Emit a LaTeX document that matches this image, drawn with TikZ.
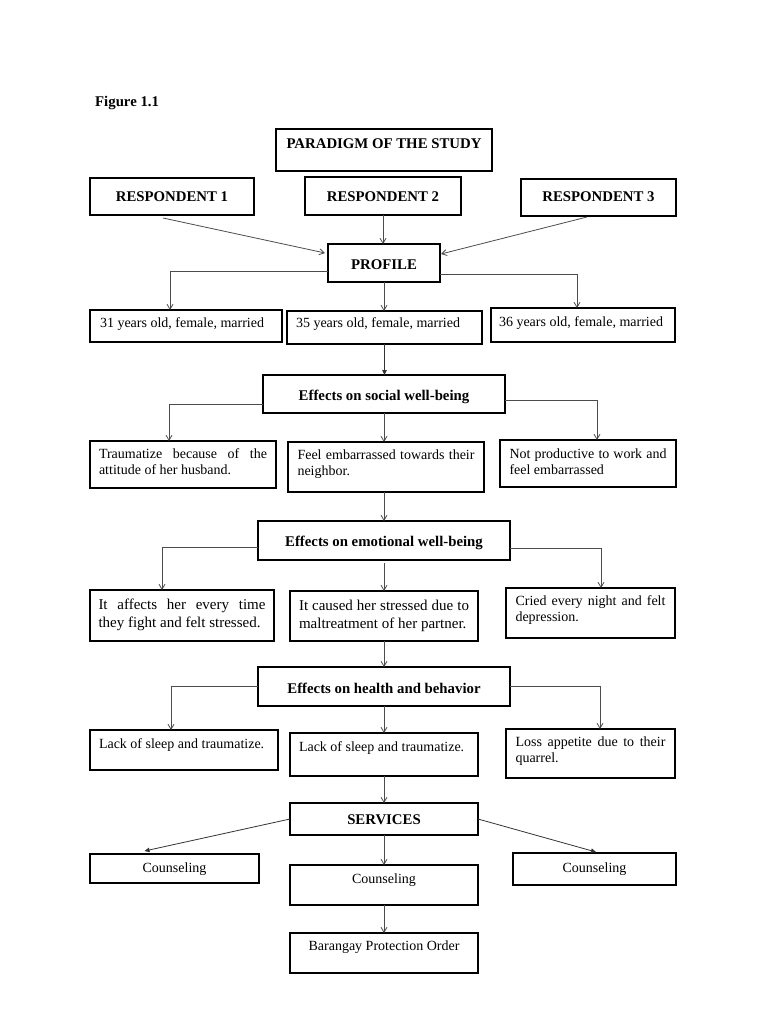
\documentclass[tikz,border=0pt]{standalone}
\usepackage{fontspec}
\setmainfont{Liberation Serif}
\usetikzlibrary{arrows.meta}
\newcommand{\regfont}{\fontsize{14}{16.5}\selectfont}
\newcommand{\bigregfont}{\fontsize{15}{18}\selectfont}
\newcommand{\headfont}{\fontsize{14.8}{17}\selectfont\bfseries}

\begin{document}
\begin{tikzpicture}[x=1pt, y=-1pt,
  box/.style={draw, line width=1.1pt, rectangle, anchor=north west, inner ysep=0pt, inner xsep=9pt, outer sep=0pt, font=\regfont, align=flush left},
  jbox/.style={box, align=justify},
  head/.style={box, inner xsep=4pt, align=flush center, font=\headfont},
  cbox/.style={box, inner xsep=4pt, align=flush center},
  conn/.style={draw=black!70, line width=0.8pt, -{Straight Barb[length=5pt,width=6pt]}},
  connf/.style={draw=black!80, line width=0.8pt, -{Triangle[length=5pt,width=4.5pt]}}]
\useasboundingbox (0,0) rectangle (768,1024);

\node[anchor=base west, inner sep=0pt, font=\headfont] (fig) at (95,107) {Figure 1.1};
\node[head, text width=208pt, text height=20pt, text depth=22pt] (paradigm) at (276,129) {PARADIGM OF THE STUDY};

\node[head, text width=156pt, text height=24pt, text depth=13pt] (r1) at (90,178) {RESPONDENT 1};
\node[head, text width=148pt, text height=25pt, text depth=13pt] (r2) at (305,177) {RESPONDENT 2};
\node[head, text width=147pt, text height=23pt, text depth=14pt] (r3) at (521,179) {RESPONDENT 3};
\node[head, text width=104pt, text height=25pt, text depth=13pt] (profile) at (328,244) {PROFILE};

\node[box, inner xsep=10pt, text width=172pt, text height=17pt, text depth=15pt] (b31) at (90,310) {31 years old, female, married};
\node[box, text width=177pt, text height=16pt, text depth=17pt] (b35) at (287,311) {35 years old, female, married};
\node[box, inner xsep=8pt, text width=168pt, text height=18pt, text depth=16pt] (b36) at (491,308) {36 years old, female, married};

\node[head, text width=234pt, text height=25pt, text depth=13pt] (social) at (263,375) {Effects on social well-being};
\node[jbox, text width=168pt, text height=17pt, text depth=30pt] (trauma) at (90,441) {Traumatize because of the\linebreak attitude of her husband.};
\node[jbox, inner xsep=9.5pt, text width=177pt, text height=17pt, text depth=33pt] (feel) at (288,442) {Feel embarrassed towards their\linebreak neighbor.};
\node[jbox, inner xsep=9.5pt, text width=157pt, text height=18pt, text depth=29pt] (notprod) at (500,440) {Not productive to work and\linebreak feel embarrassed};

\node[head, text width=244pt, text height=25pt, text depth=14pt] (emotional) at (258,521) {Effects on emotional well-being};
\node[jbox, inner xsep=8.5pt, font=\bigregfont, text width=167pt, text height=19pt, text depth=32pt] (affects) at (90,590) {It affects her every time\linebreak they fight and felt stressed.};
\node[jbox, font=\bigregfont, text width=170pt, text height=19pt, text depth=31pt] (caused) at (290,591) {It caused her stressed due to\linebreak maltreatment of her partner.};
\node[jbox, inner xsep=9.5pt, text width=150pt, text height=17pt, text depth=33pt] (cried) at (506,588) {Cried every night and felt\linebreak depression.};

\node[head, text width=244pt, text height=26pt, text depth=13pt] (health) at (258,667) {Effects on health and behavior};
\node[box, text width=170pt, text height=18pt, text depth=22pt] (lack1) at (90,730) {Lack of sleep and traumatize.};
\node[box, text width=170pt, text height=18pt, text depth=25pt] (lack2) at (290,733) {Lack of sleep and traumatize.};
\node[jbox, inner xsep=9.5pt, text width=150pt, text height=17pt, text depth=32pt] (loss) at (506,729) {Loss appetite due to their\linebreak quarrel.};

\node[head, text width=180pt, text height=21pt, text depth=11pt] (services) at (290,803) {SERVICES};
\node[cbox, text width=161pt, text height=18pt, text depth=11pt] (couns1) at (90,854) {Counseling};
\node[cbox, text width=180pt, text height=18pt, text depth=22pt] (couns2) at (290,865) {Counseling};
\node[cbox, text width=155pt, text height=19pt, text depth=13pt] (couns3) at (513,853) {Counseling};
\node[cbox, text width=180pt, text height=17pt, text depth=23pt] (bpo) at (290,933) {Barangay Protection Order};

% respondents to profile
\draw[conn] ([xshift=-9pt,yshift=-3pt]r1.south) -- ([xshift=-3pt,yshift=10pt]profile.west);
\draw[conn] (r2.south) -- (r2.south |- profile.north);
\draw[conn] ([xshift=-11.5pt,yshift=-1pt]r3.south) -- ([xshift=1pt,yshift=9pt]profile.east);
\draw[conn] ([yshift=-8pt]profile.west) -| ([xshift=-16pt]b31.north);
\draw[conn] (profile.south) -- (profile.south |- b35.north);
\draw[conn] ([yshift=-11pt]profile.east) -| ([xshift=-6pt]b36.north);
\draw[connf] (b35.south) -- (b35.south |- social.north);
% social
\draw[conn] ([yshift=-10pt]social.west) -| ([xshift=-14pt]trauma.north);
\draw[conn] (social.south) -- (social.south |- feel.north);
\draw[conn] ([yshift=-6pt]social.east) -| ([xshift=9pt]notprod.north);
\draw[conn] (emotional.north |- feel.south) -- (emotional.north);
% emotional
\draw[conn] ([yshift=-6.5pt]emotional.west) -| ([xshift=-20pt]affects.north);
\draw[conn] ([yshift=-3pt]emotional.south) -- (emotional.south |- caused.north);
\draw[conn] ([yshift=-7.5pt]emotional.east) -| ([xshift=10.5pt]cried.north);
\draw[conn] (caused.south) -- (caused.south |- health.north);
% health
\draw[conn] (health.west) -| ([xshift=-13pt]lack1.north);
\draw[conn] (health.south) -- (health.south |- lack2.north);
\draw[conn] (health.east) -| ([xshift=9.5pt]loss.north);
\draw[conn] (lack2.south) -- (lack2.south |- services.north);
% services
\draw[connf] (services.west) -- ([xshift=-30pt,yshift=3pt]couns1.north);
\draw[conn] (services.south) -- (services.south |- couns2.north);
\draw[connf] (services.east) -- ([xshift=1.5pt,yshift=1pt]couns3.north);
\draw[conn] (couns2.south) -- (couns2.south |- bpo.north);
\end{tikzpicture}
\end{document}
